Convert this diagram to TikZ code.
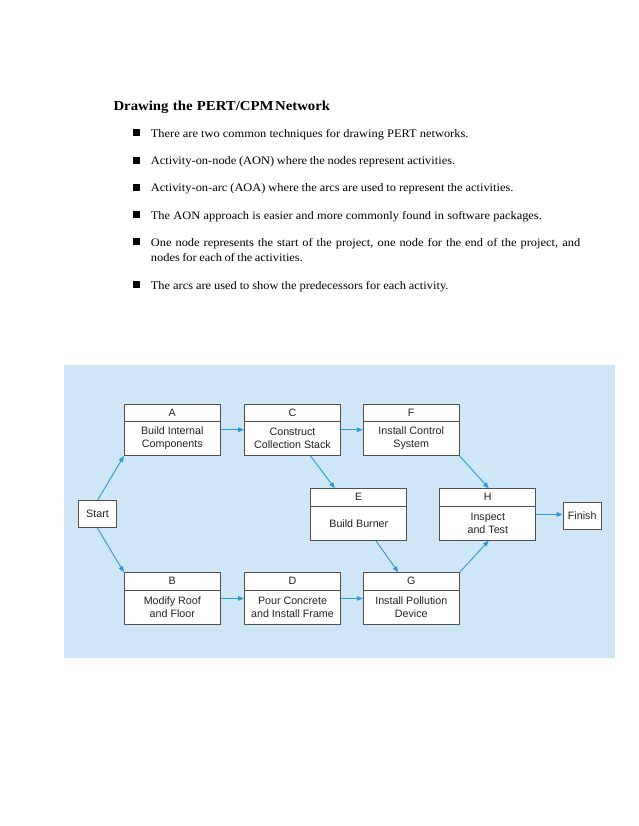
\documentclass[tikz,border=0pt]{standalone}
\usepackage{fontspec}
\setmainfont{Liberation Serif}[FakeStretch=1.08]
\newfontfamily\boxfont{Liberation Sans}
\usetikzlibrary{arrows.meta}
\definecolor{bgblue}{HTML}{CFE6F6}
\definecolor{arrowblue}{HTML}{2A9AD6}
\definecolor{boxline}{HTML}{505050}
\definecolor{boxtext}{HTML}{222222}
\tikzset{
  actbox/.style={draw=boxline, fill=white, line width=0.8pt, minimum width=96pt, minimum height=51.5pt, inner sep=0pt},
  endbox/.style={draw=boxline, fill=white, line width=0.8pt, minimum width=38.5pt, minimum height=27pt, inner sep=0pt, font=\boxfont\fontsize{10.7}{12}\selectfont, text=boxtext},
  lettext/.style={inner sep=0pt, font=\boxfont\fontsize{10.7}{12}\selectfont, text=boxtext},
  desctext/.style={inner sep=0pt, align=center, font=\boxfont\fontsize{10.7}{13}\selectfont, text=boxtext},
  arr/.style={draw=arrowblue, line width=0.9pt, -{Triangle[length=6pt,width=4.5pt]}},
  bodytext/.style={anchor=base west, inner sep=0pt, font=\fontsize{11.5}{13}\selectfont},
  bullet/.style={fill=black}
}
\newcommand{\actbox}[5]{%
  \node[actbox] (#1) at (#2,#3+25.75) {};
  \draw[boxline, line width=0.8pt] ([yshift=-18pt]#1.north west) -- ([yshift=-18pt]#1.north east);
  \node[lettext] (#1l) at ([yshift=-9pt]#1.north) {#4};
  \node[desctext] (#1d) at ([yshift=-35pt]#1.north) {#5};
}
\newcommand{\bulletline}[4]{%
  \fill[bullet] (133.3,#2-8) rectangle (140.3,#2-1);
  \node[bodytext] (#1) at (150.7,#2) {\makebox[#3pt][s]{#4}};
}
\begin{document}
\begin{tikzpicture}[x=1pt,y=-1pt]
\useasboundingbox (0,0) rectangle (638,826);
\fill[white] (0,0) rectangle (638,826);
% heading
\node[anchor=base west, inner sep=0pt, font=\fontsize{13.7}{16}\selectfont\bfseries] (head) at (113.3,110.7) {\makebox[216.7pt][s]{Drawing the PERT/CPM\hspace{1.5pt}Network}};
\bulletline{t1}{137.3}{317.6}{There are two common techniques for drawing PERT networks.}
\bulletline{t2}{165}{304.3}{Activity-on-node (AON) where the nodes represent activities.}
\bulletline{t3}{191.7}{362.6}{Activity-on-arc (AOA) where the arcs are used to represent the activities.}
\bulletline{t4}{219.3}{391}{The AON approach is easier and more commonly found in software packages.}
\bulletline{t5}{246}{429.3}{One node represents the start of the project, one node for the end of the project, and}
\node[bodytext] (t5b) at (150.7,261.7) {\makebox[152pt][s]{nodes for each of the activities.}};
\bulletline{t6}{289}{297.6}{The arcs are used to show the predecessors for each activity.}
% diagram background
\fill[bgblue] (64,365) rectangle (615,658);
% nodes
\node[endbox] (Start) at (97.5,514.2) {Start};
\node[endbox] (Finish) at (582.2,515.5) {Finish};
\actbox{A}{172.3}{404}{A}{Build Internal\\Components}
\actbox{C}{292.5}{404}{C}{Construct\\Collection Stack}
\actbox{F}{411.2}{404}{F}{Install Control\\System}
\actbox{E}{358.8}{488.7}{E}{Build Burner}
\actbox{H}{487.8}{488.7}{H}{Inspect\\and Test}
\actbox{B}{172.3}{572.7}{B}{Modify Roof\\and Floor}
\actbox{D}{292.5}{572.7}{D}{Pour Concrete\\and Install Frame}
\actbox{G}{411.3}{572.7}{G}{Install Pollution\\Device}
% connectors
\draw[arr] (Start.north) -- (A.south west);
\draw[arr] (Start.south) -- (B.north west);
\draw[arr] (A.east) -- (C.west);
\draw[arr] (C.east) -- (F.west);
\draw[arr] ([xshift=18pt]C.south) -- ([xshift=-24pt]E.north);
\draw[arr] (F.south east) -- ([xshift=1pt]H.north);
\draw[arr] ([xshift=17pt]E.south) -- ([xshift=-13pt]G.north);
\draw[arr] (B.east) -- (D.west);
\draw[arr] (D.east) -- (G.west);
\draw[arr] (G.north east) -- ([xshift=1pt]H.south);
\draw[arr] (H.east) -- (H.east -| Finish.west);
\end{tikzpicture}
\end{document}
